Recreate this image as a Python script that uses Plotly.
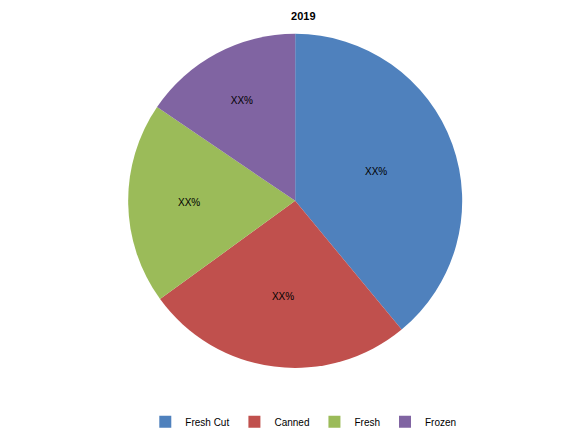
import plotly.graph_objects as go

categories = ["Fresh Cut", "Canned", "Fresh", "Frozen"]
values = [39, 26, 19.5, 15.5]
slice_labels = ["XX%", "XX%", "XX%", "XX%"]
colors = ["#4F81BD", "#C0504D", "#9BBB59", "#8064A2"]

fig = go.Figure(go.Pie(
    labels=categories,
    values=values,
    text=slice_labels,
    texttemplate="%{text}",
    textposition="inside",
    insidetextorientation="horizontal",
    textfont=dict(color="black", size=10),
    marker=dict(colors=colors),
    sort=False,
    direction="clockwise",
    rotation=0,
    hoverinfo="label+percent",
    domain=dict(x=[0.006, 0.986], y=[0.165, 0.94]),
))

fig.update_layout(
    width=579,
    height=431,
    margin=dict(l=0, r=0, t=0, b=0),
    paper_bgcolor="white",
    font=dict(family="Liberation Sans, Arial", size=10, color="#000"),
    title=dict(text="<b>2019</b>", x=0.51, xanchor="center", y=0.99, yanchor="top",
               font=dict(size=11)),
    legend=dict(orientation="h", x=0.51, xanchor="center", y=0.04, yanchor="middle",
                font=dict(size=10), itemwidth=30),
)

fig.write_html("out.html")
